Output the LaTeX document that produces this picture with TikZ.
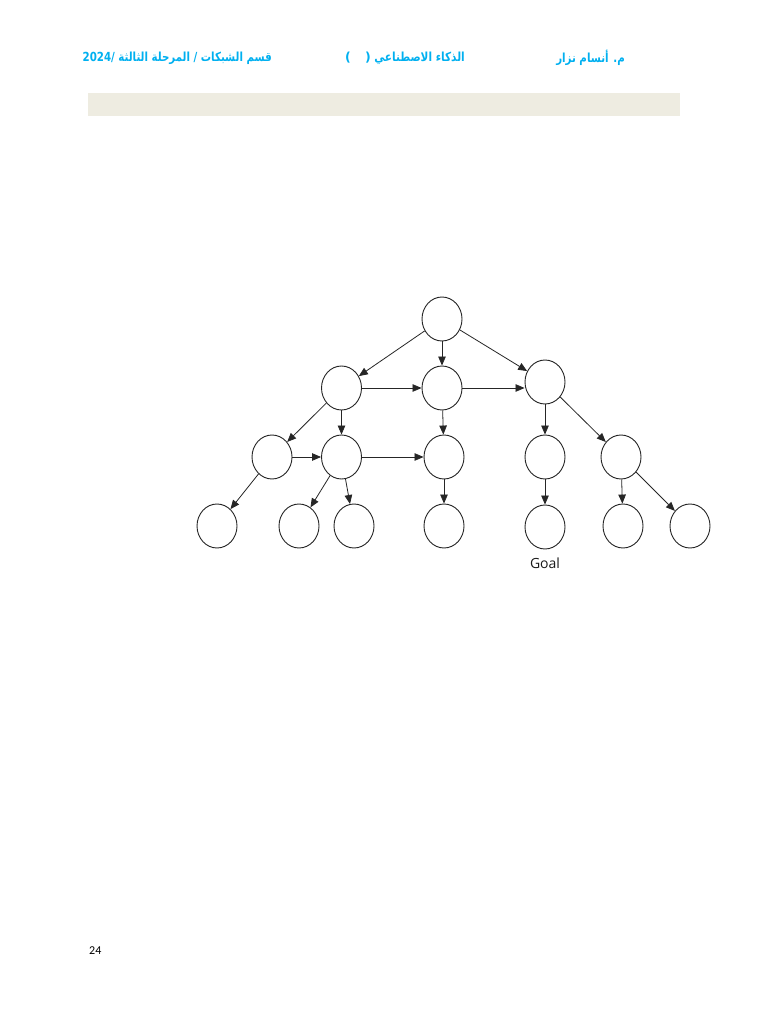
\documentclass[tikz,border=0pt]{standalone}
\usepackage{fontspec}
\usepackage{graphicx}
\usetikzlibrary{arrows.meta,shapes.geometric}
\TeXXeTstate=1
\newfontfamily\arabicfont[Script=Arabic]{DejaVu Sans Bold}
\newfontfamily\parenfont{DejaVu Sans Bold}
\newfontfamily\goalfont{Open Sans}
\newfontfamily\numfont{Carlito}
\definecolor{hdrblue}{RGB}{0,176,240}
\definecolor{barfill}{RGB}{238,236,225}
\begin{document}
\begin{tikzpicture}[x=1pt,y=-1pt,
  st/.style={ellipse,draw=black!85,line width=0.9pt,minimum width=40pt,minimum height=44pt,inner sep=0pt},
  arr/.style={-{Triangle[length=9pt,width=7.5pt]},line width=0.8pt,draw=black!85},
  hdr/.style={text=hdrblue,font=\arabicfont\fontsize{12.5}{14}\selectfont,inner sep=0pt},
  par/.style={text=hdrblue,font=\parenfont\fontsize{12.5}{14}\selectfont,inner sep=0pt}
]
\useasboundingbox (0,0) rectangle (768,1024);
\fill[white] (0,0) rectangle (768,1024);
% header
\node[hdr,anchor=east] (h1) at (625,58) {\scalebox{0.82}[1]{\beginR م. أنسام نزار\endR}};
\node[hdr,anchor=east] (h2) at (465,58) {\scalebox{0.84}[1]{\beginR الذكاء الاصطناعي\endR}};
\node[par] (h2l) at (348,58) {(};
\node[par] (h2r) at (368,58) {)};
\node[hdr,anchor=east] (h3) at (272,58) {\scalebox{0.82}[1]{\beginR قسم الشبكات / المرحلة الثالثة /\beginL 2024\endL\endR}};
\fill[barfill] (88,93) rectangle (680,116);
% nodes
\node[st] (r) at (442,319) {};
\node[st] (a) at (341.5,388) {};
\node[st] (b) at (442,388) {};
\node[st] (c1) at (545,382) {};
\node[st] (c) at (272,457) {};
\node[st] (d) at (341.5,457) {};
\node[st] (e) at (444,457) {};
\node[st] (j) at (545,457) {};
\node[st] (k) at (621,457) {};
\node[st] (f) at (217,526) {};
\node[st] (g) at (299,526) {};
\node[st] (h) at (354,526) {};
\node[st] (i) at (444,526) {};
\node[st] (l) at (545,527) {};
\node[st] (m) at (623,526) {};
\node[st] (n) at (690,526) {};
\node[font=\goalfont\fontsize{14}{16}\selectfont,text=black!90] (goal) at (545,563) {Goal};
% edges
\draw[arr] (r) -- (a);
\draw[arr] (r) -- (b);
\draw[arr] (r) -- (c1);
\draw[arr] (a) -- (b);
\draw[arr] (b.east) -- (c1.west |- b.east);
\draw[arr] (a) -- (c);
\draw[arr] (a) -- (d);
\draw[arr] (b) -- (e);
\draw[arr] (c1) -- (j);
\draw[arr] (c1) -- (k);
\draw[arr] (c) -- (d);
\draw[arr] (d) -- (e);
\draw[arr] (c) -- (f);
\draw[arr] (d) -- (g);
\draw[arr] (d) -- (h);
\draw[arr] (e) -- (i);
\draw[arr] (j) -- (l);
\draw[arr] (k) -- (m);
\draw[arr] (k) -- (n);
% page number
\node[font=\numfont\fontsize{12}{14}\selectfont,anchor=west,inner sep=0pt] (pn) at (89,951) {24};
\end{tikzpicture}
\end{document}
